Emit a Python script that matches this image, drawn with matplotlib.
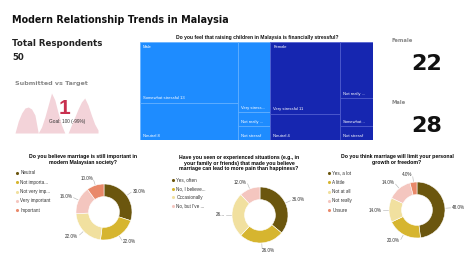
import matplotlib
matplotlib.use("Agg")
import matplotlib.pyplot as plt
import numpy as np
from matplotlib.patches import Rectangle

plt.rcParams['font.family'] = ['Liberation Sans', 'DejaVu Sans']

W, H = 474, 268

# scorecards
total_respondents = 50
submitted = 1
goal = 100
female_count = 22
male_count = 28
spark_values = [0, 12, 20, 25, 26, 24, 18, 0, 6, 16, 28, 40, 33, 20, 8, 0,
                0, 8, 16, 24, 31, 35, 28, 18, 9, 3]

# treemap
tree_title = "Do you feel that raising children in Malaysia is financially stressful?"
male_vals = [13, 8, 5, 1, 1]
male_labels = ["Somewhat stressful 13", "Neutral 8", "Very stress...", "Not really ...", "Not stressf"]
female_vals = [11, 4, 4, 2, 1]
female_labels = ["Very stressful 11", "Neutral 4", "Not really ...", "Somewhat...", "Not stressf"]

# donuts
donut_colors = ['#6b560e', '#d6b52f', '#f1e09f', '#f4c6bf', '#e9896a']

pie1_title = "Do you believe marriage is still important in\nmodern Malaysian society?"
pie1_legend = ["Neutral", "Not importa...", "Not very imp...", "Very important", "Important"]
pie1_vals = [30, 22, 22, 16, 10]

pie2_title = ("Have you seen or experienced situations (e.g., in\n"
              "your family or friends) that made you believe\n"
              "marriage can lead to more pain than happiness?")
pie2_legend = ["Yes, often", "No, I believe...", "Occasionally", "No, but I've ..."]
pie2_vals = [36, 26, 26, 12]
pie2_pct = ["36.0%", "26.0%", "26...", "12.0%"]

pie3_title = "Do you think marriage will limit your personal\ngrowth or freedom?"
pie3_legend = ["Yes, a lot", "A little", "Not at all", "Not really", "Unsure"]
pie3_vals = [48, 20, 14, 14, 4]


def box(x0, y0, x1, y1):
    return [x0 / W, 1 - y1 / H, (x1 - x0) / W, (y1 - y0) / H]


fig = plt.figure(figsize=(W / 100, H / 100), dpi=100)
fig.patch.set_facecolor('white')

ax0 = fig.add_axes([0, 0, 1, 1])
ax0.set_xlim(0, W)
ax0.set_ylim(H, 0)
ax0.axis('off')
ax0.set_zorder(10)

heavy = ['DejaVu Sans']
ax0.text(12, 20, "Modern Relationship Trends in Malaysia", fontsize=6.9,
         weight='bold', va='center', color='#111111', family=heavy)
ax0.text(12, 44, "Total Respondents", fontsize=6.2, weight='bold', va='center',
         color='#222222', family=heavy)
ax0.text(12, 57, str(total_respondents), fontsize=6.2, weight='bold', va='center',
         color='#222222', family=heavy)
ax0.text(15, 84, "Submitted vs Target", fontsize=4.6, weight='bold', va='center',
         color='#888888', family=heavy)

# sparkline
sp = fig.add_axes(box(15, 90, 98, 133))
sp.fill_between(range(len(spark_values)), spark_values, color='#f3d3d9', lw=0)
sp.set_xlim(0, len(spark_values) - 1)
sp.set_ylim(0, 43)
sp.axis('off')

ax0.text(65, 108, str(submitted), fontsize=15, weight='bold', ha='center', va='center', color='#c8304f')
pct = (submitted - goal) / goal * 100
ax0.text(67, 122, f"Goal: {goal} ({pct:.0f}%)", fontsize=3.4, ha='center', va='center', color='#333333')

# gender scorecards
ax0.text(392, 40, "Female", fontsize=3.8, weight='bold', color='#888888', va='center', family=heavy)
ax0.text(427, 64, str(female_count), fontsize=16, weight='bold', ha='center', va='center',
         color='#111111', family=heavy)
ax0.text(392, 103, "Male", fontsize=3.8, weight='bold', color='#888888', va='center', family=heavy)
ax0.text(427, 126, str(male_count), fontsize=16, weight='bold', ha='center', va='center',
         color='#111111', family=heavy)

# treemap
ax0.text(257, 38, tree_title, fontsize=3.6, weight='bold', ha='center', va='center', color='#111111')
tm = fig.add_axes(box(140, 42, 373, 140))
total = sum(male_vals) + sum(female_vals)
tm.set_xlim(0, total)
tm.set_ylim(1, 0)
tm.axis('off')


def draw_group(vals, labels, x0, color, edge, name):
    x = x0
    for col_vals, col_labels in ((vals[:2], labels[:2]), (vals[2:], labels[2:])):
        w = sum(col_vals)
        y = 0
        for v, lab in zip(col_vals, col_labels):
            h = v / w
            tm.add_patch(Rectangle((x, y), w, h, facecolor=color, edgecolor=edge, lw=0.5))
            tm.text(x + 0.6, y + h - 0.025, lab, fontsize=3, color='white', va='bottom', ha='left')
            y += h
        x += w
    tm.text(x0 + 0.6, 0.03, name, fontsize=3, color='white', va='top', ha='left')


draw_group(male_vals, male_labels, 0, '#1e8cff', '#64b0ff', "Male")
draw_group(female_vals, female_labels, sum(male_vals), '#1626b0', '#4f5ccf', "Female")


def donut(cx, cy, vals, pct_labels):
    r = 28
    ax = fig.add_axes(box(cx - 45, cy - 45, cx + 45, cy + 45))
    ax.pie(vals, colors=donut_colors[:len(vals)], startangle=90, counterclock=False,
           radius=1, wedgeprops=dict(width=0.45, edgecolor='white', lw=0.4))
    lim = 45 / r
    ax.set_xlim(-lim, lim)
    ax.set_ylim(-lim, lim)
    ax.set_aspect('equal')
    ax.axis('off')
    tot = sum(vals)
    mids = np.cumsum(vals) - np.array(vals) / 2
    for m, lab in zip(mids, pct_labels):
        t = np.deg2rad(90 - 360 * m / tot)
        c, s = np.cos(t), np.sin(t)
        ax.plot([1.03 * c, 1.2 * c], [1.03 * s, 1.2 * s], color='#b0b0b0', lw=0.4)
        ax.text(1.26 * c, 1.26 * s, lab, fontsize=3.3, color='#333333',
                ha='left' if c >= 0 else 'right', va='center')


def legend(x, y, dy, labels):
    for i, lab in enumerate(labels):
        ax0.scatter(x, y + i * dy, s=5, color=donut_colors[i], lw=0)
        ax0.text(x + 3.5, y + i * dy, lab, fontsize=3.3, va='center', color='#333333')


ax0.text(83, 154, pie1_title, fontsize=3.7, weight='bold', ha='center', va='top', linespacing=1.15)
legend(17, 173, 9.3, pie1_legend)
donut(104, 212, pie1_vals, [f"{v:.1f}%" for v in pie1_vals])

ax0.text(239, 155, pie2_title, fontsize=3.7, weight='bold', ha='center', va='top', linespacing=1.15)
legend(173, 180, 8.7, pie2_legend)
donut(260, 215, pie2_vals, pie2_pct)

ax0.text(397, 154, pie3_title, fontsize=3.7, weight='bold', ha='center', va='top', linespacing=1.15)
legend(329, 173, 9.3, pie3_legend)
donut(417, 210, pie3_vals, [f"{v:.1f}%" for v in pie3_vals])

fig.savefig("out.png", dpi=100, facecolor='white')
